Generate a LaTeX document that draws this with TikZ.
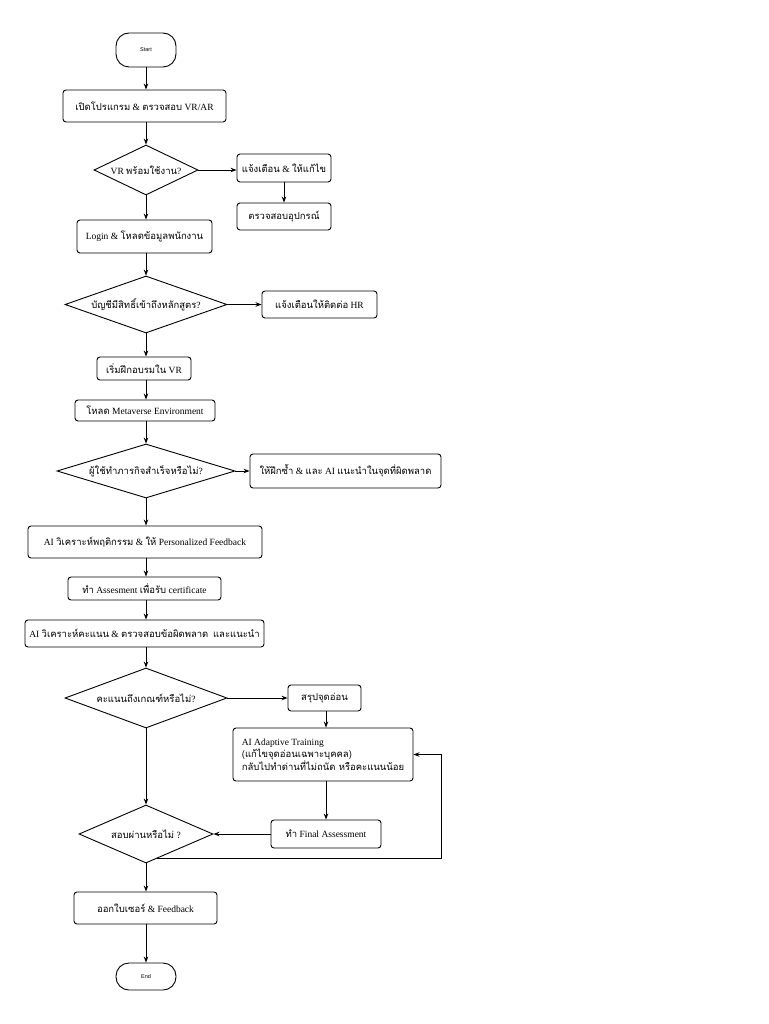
\documentclass[tikz,border=0pt]{standalone}
\usepackage{fontspec}
\setmainfont{Liberation Serif}
\newfontfamily\thaifont[Script=Thai]{Loma}
\newfontfamily\lsans{Liberation Sans}
\usetikzlibrary{shapes.geometric,arrows.meta,calc}
\newcommand\tf[1]{{\thaifont #1}}
\begin{document}
\begin{tikzpicture}[x=1pt,y=1pt,
  every node/.style={font=\fontsize{9.5}{12.5}\selectfont},
  box/.style={draw,rectangle,rounded corners=3pt,line width=0.9pt,inner sep=0pt,align=center},
  term/.style={draw,rectangle,rounded corners=13pt,line width=0.9pt,inner sep=0pt,font=\lsans\fontsize{5.5}{6}\selectfont},
  dec/.style={draw,diamond,line width=0.9pt,inner sep=0pt},
  arr/.style={draw,line width=0.9pt,-{Stealth[length=6pt,width=4.5pt]}}]
\useasboundingbox (0,0) rectangle (768,-1024);
\fill[white] (0,0) rectangle (768,-1024);
% nodes
\node[term,minimum width=60,minimum height=34] (start) at (146,-50) {Start};
\node[box,minimum width=163,minimum height=32] (b1) at (144.5,-106) {\tf{เปิดโปรแกรม} \& \tf{ตรวจสอบ} VR/AR};
\node[dec,minimum width=104,minimum height=50] (d1) at (146,-170) {\makebox[0pt]{VR \tf{พร้อมใช้งาน}?}};
\node[box,minimum width=94,minimum height=28] (warn) at (284,-168) {\tf{แจ้งเตือน} \& \tf{ให้แก้ไข}};
\node[box,minimum width=94,minimum height=27] (chk) at (284,-216.5) {\tf{ตรวจสอบอุปกรณ์}};
\node[box,minimum width=135,minimum height=33] (login) at (144.5,-236.5) {Login \& \tf{โหลดข้อมูลพนักงาน}};
\node[dec,minimum width=162,minimum height=57] (d2) at (146,-304.5) {\makebox[0pt]{\tf{บัญชีมีสิทธิ์เข้าถึงหลักสูตร}?}};
\node[box,minimum width=115,minimum height=27] (hr) at (319.5,-304.5) {\tf{แจ้งเตือนให้ติดต่อ} HR};
\node[box,minimum width=94,minimum height=23] (svr) at (144,-368.5) {\tf{เริ่มฝึกอบรมใน} VR};
\node[box,minimum width=140,minimum height=21] (meta) at (145,-410.5) {\tf{โหลด} Metaverse Environment};
\node[dec,minimum width=178,minimum height=54] (d3) at (146,-471) {\makebox[0pt]{\tf{ผู้ใช้ทำภารกิจสำเร็จหรือไม่}?}};
\node[box,minimum width=191,minimum height=34] (retry) at (345.5,-471) {\tf{ให้ฝึกซ้ำ} \& \tf{และ} AI \tf{แนะนำในจุดที่ผิดพลาด}};
\node[box,minimum width=234,minimum height=32] (aifb) at (145,-542) {AI \tf{วิเคราะห์พฤติกรรม} \& \tf{ให้} Personalized Feedback};
\node[box,minimum width=153,minimum height=23] (ass) at (144.5,-588.5) {\tf{ทำ} Assesment \tf{เพื่อรับ} certificate};
\node[box,minimum width=239,minimum height=27] (ais) at (144.5,-633.5) {AI \tf{วิเคราะห์คะแนน} \& \tf{ตรวจสอบข้อผิดพลาด}\ \ \tf{และแนะนำ}};
\node[dec,minimum width=162,minimum height=60] (d4) at (146,-698) {\makebox[0pt]{\tf{คะแนนถึงเกณฑ์หรือไม่}?}};
\node[box,minimum width=73,minimum height=26] (weak) at (324.5,-698) {\tf{สรุปจุดอ่อน}};
\node[box,minimum width=180,minimum height=53,align=left] (adapt) at (323,-754.5) {AI Adaptive Training\\\tf{(แก้ไขจุดอ่อนเฉพาะบุคคล)}\\\tf{กลับไปทำด่านที่ไม่ถนัด หรือคะแนนน้อย}};
\node[box,minimum width=110,minimum height=28] (final) at (326,-834) {\tf{ทำ} Final Assessment};
\node[dec,minimum width=134,minimum height=58] (d5) at (146,-834) {\makebox[0pt]{\tf{สอบผ่านหรือไม่} ?}};
\node[box,minimum width=143,minimum height=32] (cert) at (145.5,-908) {\tf{ออกใบเซอร์} \& Feedback};
\node[term,minimum width=60,minimum height=27] (end) at (146,-976.5) {End};
% connectors
\draw[arr] (start.south) -- (start.south |- b1.north);
\draw[arr] (start.south |- b1.south) -- (d1.north);
\draw[arr] (d1.east) -- (d1.east -| warn.west);
\draw[arr] (warn.south) -- (chk.north);
\draw[arr] (d1.south) -- (d1.south |- login.north);
\draw[arr] (d1.south |- login.south) -- (d2.north);
\draw[arr] (d2.east) -- (hr.west);
\draw[arr] (d2.south) -- (d2.south |- svr.north);
\draw[arr] (d2.south |- svr.south) -- (d2.south |- meta.north);
\draw[arr] (d2.south |- meta.south) -- (d3.north);
\draw[arr] (d3.east) -- (retry.west);
\draw[arr] (d3.south) -- (d3.south |- aifb.north);
\draw[arr] (d3.south |- aifb.south) -- (d3.south |- ass.north);
\draw[arr] (d3.south |- ass.south) -- (d3.south |- ais.north);
\draw[arr] (d3.south |- ais.south) -- (d4.north);
\draw[arr] (d4.east) -- (weak.west);
\draw[arr] (final.north |- weak.south) -- (final.north |- adapt.north);
\draw[arr] (final.north |- adapt.south) -- (final.north);
\draw[arr] (final.west) -- (d5.east);
\draw[arr] (d4.south) -- (d5.north);
\coordinate (lp) at ($(d5.south)!0.17!(d5.east)$);
\coordinate (lc) at ($(adapt.east)+(28,0)$);
\draw[arr] (lp) -| (lc) -- (adapt.east);
\draw[arr] (d5.south) -- (d5.south |- cert.north);
\draw[arr] (d5.south |- cert.south) -- (end.north);
\end{tikzpicture}
\end{document}
